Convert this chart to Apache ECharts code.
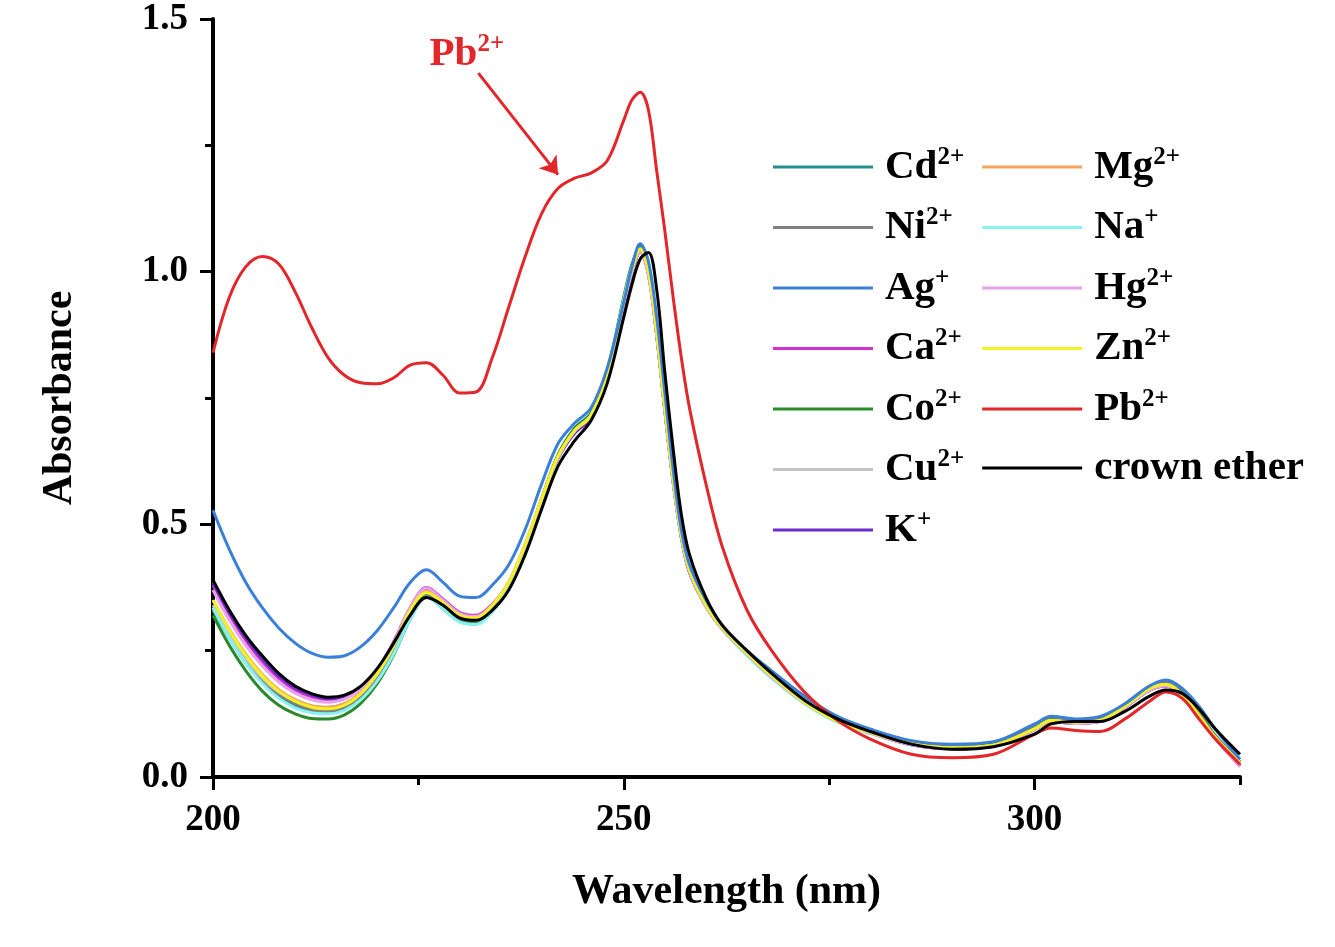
<!DOCTYPE html>
<html>
<head>
<meta charset="utf-8">
<script src="https://cdn.jsdelivr.net/npm/echarts@6/dist/echarts.min.js"></script>
<style>
html, body { margin: 0; padding: 0; background: #fff; }
#main { width: 1335px; height: 947px; }
</style>
</head>
<body>
<div id="main"></div>
<script>
var wavelength = [200,202,204,206,208,210,212,214,216,218,220,222,224,226,228,230,232,234,236,238,240,242,244,246,248,
  250,251,252,253,254,255,256,257,258,
  260,262,265,268,272,276,280,285,290,295,300,302,305,308,311,314,316,318,320,322,325];

var cd = [0.33,0.275,0.225,0.188,0.16,0.142,0.13,0.127,0.134,0.155,0.19,0.245,0.315,0.36,0.335,0.31,0.305,0.33,0.38,0.455,0.55,0.635,0.69,0.72,0.80,
  0.945,1.01,1.05,1.0,0.88,0.73,0.59,0.48,0.41,
  0.34,0.295,0.245,0.2,0.15,0.112,0.09,0.068,0.06,0.066,0.1,0.118,0.112,0.116,0.145,0.18,0.19,0.168,0.128,0.082,0.03];
var ni = [0.335,0.28,0.23,0.19,0.163,0.145,0.133,0.13,0.137,0.158,0.195,0.25,0.32,0.362,0.338,0.312,0.307,0.332,0.38,0.455,0.548,0.632,0.685,0.715,0.795,
  0.94,1.005,1.045,1.0,0.885,0.735,0.595,0.485,0.415,
  0.342,0.297,0.247,0.202,0.15,0.112,0.09,0.067,0.059,0.064,0.098,0.115,0.11,0.114,0.142,0.178,0.187,0.165,0.125,0.08,0.03];
var ag = [0.528,0.45,0.385,0.335,0.295,0.265,0.245,0.237,0.24,0.258,0.29,0.335,0.385,0.41,0.385,0.358,0.355,0.38,0.42,0.49,0.58,0.66,0.70,0.73,0.81,
  0.94,1.01,1.055,1.02,0.91,0.76,0.61,0.49,0.42,
  0.35,0.30,0.25,0.21,0.16,0.12,0.095,0.072,0.065,0.07,0.105,0.12,0.115,0.12,0.145,0.18,0.192,0.175,0.14,0.095,0.035];
var ca = [0.38,0.32,0.27,0.228,0.195,0.172,0.158,0.152,0.157,0.176,0.212,0.268,0.335,0.375,0.352,0.326,0.32,0.342,0.385,0.46,0.55,0.635,0.685,0.715,0.795,
  0.935,1.0,1.04,0.995,0.875,0.725,0.585,0.475,0.405,
  0.338,0.293,0.243,0.198,0.147,0.11,0.087,0.064,0.056,0.061,0.094,0.11,0.106,0.11,0.138,0.172,0.18,0.16,0.12,0.076,0.022];
var co = [0.32,0.26,0.21,0.17,0.142,0.125,0.116,0.115,0.123,0.146,0.185,0.242,0.312,0.357,0.333,0.308,0.303,0.328,0.378,0.455,0.55,0.638,0.69,0.72,0.805,
  0.95,1.015,1.05,1.0,0.875,0.725,0.585,0.475,0.405,
  0.338,0.293,0.243,0.198,0.147,0.11,0.088,0.066,0.058,0.063,0.096,0.113,0.108,0.112,0.14,0.175,0.183,0.162,0.122,0.078,0.028];
var cu = [0.34,0.285,0.235,0.196,0.168,0.15,0.14,0.138,0.145,0.166,0.203,0.258,0.326,0.366,0.342,0.316,0.311,0.336,0.384,0.458,0.55,0.634,0.686,0.716,0.798,
  0.94,1.005,1.045,1.0,0.88,0.73,0.59,0.48,0.41,
  0.34,0.295,0.245,0.2,0.148,0.11,0.088,0.066,0.058,0.063,0.095,0.112,0.108,0.112,0.14,0.175,0.183,0.162,0.122,0.078,0.028];
var k = [0.385,0.325,0.275,0.234,0.2,0.176,0.162,0.155,0.16,0.178,0.213,0.266,0.33,0.37,0.348,0.322,0.317,0.338,0.38,0.455,0.545,0.63,0.68,0.71,0.79,
  0.93,0.995,1.04,0.995,0.875,0.725,0.585,0.475,0.405,
  0.338,0.293,0.243,0.198,0.147,0.11,0.087,0.064,0.056,0.061,0.094,0.11,0.106,0.11,0.138,0.172,0.18,0.16,0.12,0.076,0.022];
var mg = [0.35,0.292,0.243,0.203,0.173,0.153,0.141,0.138,0.145,0.167,0.206,0.262,0.332,0.368,0.346,0.32,0.315,0.34,0.386,0.46,0.55,0.635,0.685,0.715,0.798,
  0.94,1.0,1.04,0.995,0.878,0.728,0.588,0.478,0.408,
  0.34,0.295,0.245,0.2,0.148,0.11,0.088,0.066,0.058,0.063,0.095,0.112,0.108,0.112,0.14,0.175,0.183,0.162,0.122,0.078,0.028];
var na = [0.335,0.275,0.225,0.185,0.156,0.137,0.127,0.125,0.132,0.153,0.19,0.244,0.312,0.356,0.333,0.307,0.302,0.327,0.377,0.452,0.545,0.632,0.685,0.716,0.8,
  0.945,1.01,1.045,0.998,0.878,0.728,0.588,0.478,0.408,
  0.338,0.292,0.24,0.195,0.145,0.108,0.086,0.065,0.057,0.062,0.095,0.112,0.107,0.111,0.139,0.174,0.182,0.16,0.12,0.076,0.026];
var hg = [0.37,0.31,0.26,0.22,0.188,0.166,0.153,0.148,0.154,0.174,0.21,0.266,0.334,0.374,0.35,0.324,0.318,0.34,0.384,0.458,0.548,0.632,0.684,0.714,0.795,
  0.935,1.0,1.04,0.995,0.875,0.725,0.585,0.475,0.405,
  0.338,0.293,0.243,0.198,0.147,0.11,0.087,0.064,0.056,0.061,0.094,0.11,0.106,0.11,0.138,0.172,0.18,0.16,0.12,0.076,0.02];
var zn = [0.35,0.29,0.24,0.20,0.17,0.15,0.138,0.135,0.142,0.165,0.205,0.26,0.33,0.365,0.345,0.32,0.315,0.34,0.385,0.46,0.55,0.635,0.685,0.715,0.80,
  0.94,1.005,1.045,1.0,0.88,0.73,0.59,0.48,0.41,
  0.34,0.295,0.245,0.2,0.148,0.11,0.088,0.066,0.058,0.063,0.095,0.112,0.108,0.112,0.14,0.175,0.183,0.162,0.122,0.078,0.028];
var pb = [0.84,0.95,1.01,1.03,1.015,0.96,0.89,0.83,0.795,0.78,0.778,0.79,0.815,0.82,0.795,0.76,0.762,0.83,0.93,1.03,1.115,1.165,1.185,1.195,1.22,
  1.30,1.34,1.355,1.32,1.20,1.08,0.95,0.83,0.73,
  0.58,0.455,0.33,0.25,0.168,0.112,0.075,0.045,0.038,0.045,0.085,0.097,0.092,0.09,0.115,0.15,0.168,0.155,0.115,0.075,0.025];
var crownEther = [0.39,0.33,0.28,0.24,0.205,0.18,0.165,0.158,0.162,0.18,0.215,0.265,0.32,0.355,0.34,0.315,0.31,0.33,0.37,0.44,0.53,0.615,0.665,0.705,0.78,
  0.91,0.975,1.025,1.038,0.965,0.80,0.65,0.52,0.44,
  0.355,0.30,0.25,0.205,0.152,0.115,0.09,0.065,0.055,0.06,0.085,0.105,0.11,0.11,0.13,0.16,0.172,0.165,0.135,0.095,0.045];

var names = ['Cd2+','Ni2+','Ag+','Ca2+','Co2+','Cu2+','K+','Mg2+','Na+','Hg2+','Zn2+','Pb2+','crown ether'];
var values = [cd, ni, ag, ca, co, cu, k, mg, na, hg, zn, pb, crownEther];
var colors = ['#2a8c8c','#808080','#3a80d8','#d030d0','#2a8a2a','#c4c4c4','#6a2ccc','#f2a45e','#86f2f2','#e8a2e8','#f2f222','#e2262a','#000000'];
var xTicks = [200, 250, 300];
var xMinorTicks = [225, 275, 325];

var serif = "'Liberation Serif', 'Times New Roman', serif";

function pairs(ys) {
  return wavelength.map(function (x, i) { return [x, ys[i]]; });
}

function richName(name) {
  var m = name.match(/^([A-Za-z]+)(\d?[+-])$/);
  if (m) return '{b|' + m[1] + '}{s|' + m[2] + '}';
  return '{b|' + name + '}';
}

// draw order: plain ions first, then Ag, Pb, crown ether on top
var drawOrder = [0, 1, 3, 4, 5, 6, 7, 8, 9, 10, 2, 11, 12];
var series = drawOrder.map(function (i) {
  var s = {
    name: names[i],
    type: 'line',
    data: pairs(values[i]),
    smooth: 0.35,
    symbol: 'none',
    lineStyle: { width: 3, color: colors[i] },
    itemStyle: { color: colors[i] },
    z: 2
  };
  if (names[i] === 'Pb2+') {
    s.markLine = {
      silent: true,
      symbol: ['none', 'arrow'],
      symbolSize: 17,
      label: { show: false },
      lineStyle: { color: '#e2262a', width: 3, type: 'solid' },
      data: [[{ coord: [232.3, 1.393] }, { coord: [242.0, 1.192] }]]
    };
    s.markPoint = {
      silent: true,
      symbol: 'rect',
      symbolSize: 1,
      itemStyle: { color: 'rgba(0,0,0,0)' },
      label: {
        show: true,
        position: 'inside',
        formatter: '{b|Pb}{s|2+}',
        rich: {
          b: { fontFamily: serif, fontWeight: 'bold', fontSize: 41, color: '#e2262a', lineHeight: 44 },
          s: { fontFamily: serif, fontWeight: 'bold', fontSize: 25, color: '#e2262a', verticalAlign: 'top', lineHeight: 24 }
        }
      },
      data: [{ coord: [230.9, 1.43] }]
    };
  }
  return s;
});

var myChart = echarts.init(document.getElementById('main'));
myChart.setOption({
  animation: false,
  backgroundColor: '#fff',
  grid: { left: 213, right: 95, top: 19, bottom: 170 },
  legend: {
    data: names,
    orient: 'vertical',
    left: 768,
    top: 140,
    height: 440,
    itemWidth: 100,
    itemHeight: 3,
    itemGap: 18,
    icon: 'rect',
    formatter: richName,
    textStyle: {
      padding: [0, 0, 0, 7],
      rich: {
        b: { fontFamily: serif, fontWeight: 'bold', fontSize: 41, color: '#000', lineHeight: 44 },
        s: { fontFamily: serif, fontWeight: 'bold', fontSize: 25, color: '#000', verticalAlign: 'top', lineHeight: 24 }
      }
    }
  },
  xAxis: [{
    type: 'value',
    min: 200,
    max: 325,
    interval: 25,
    name: 'Wavelength (nm)',
    nameLocation: 'middle',
    nameGap: 94,
    nameTextStyle: { fontFamily: serif, fontWeight: 'bold', fontSize: 42, color: '#000' },
    axisLine: { lineStyle: { color: '#000', width: 4 } },
    axisTick: { customValues: xTicks, length: 13, lineStyle: { width: 3, color: '#000' } },
    axisLabel: { customValues: xTicks, margin: 25, fontFamily: serif, fontWeight: 'bold', fontSize: 37, color: '#000' },
    splitLine: { show: false }
  }, {
    type: 'value',
    min: 200,
    max: 325,
    position: 'bottom',
    axisLine: { show: false },
    axisTick: { customValues: xMinorTicks, length: 8, lineStyle: { width: 3, color: '#000' } },
    axisLabel: { show: false },
    splitLine: { show: false }
  }],
  yAxis: {
    type: 'value',
    min: 0,
    max: 1.5,
    interval: 0.5,
    name: 'Absorbance',
    nameLocation: 'middle',
    nameGap: 132,
    nameTextStyle: { fontFamily: serif, fontWeight: 'bold', fontSize: 42, color: '#000' },
    axisLine: { show: true, lineStyle: { color: '#000', width: 4 } },
    axisTick: { show: true, length: 13, lineStyle: { width: 3, color: '#000' } },
    minorTick: { show: true, splitNumber: 2, length: 8, lineStyle: { width: 3, color: '#000' } },
    axisLabel: {
      margin: 25,
      fontFamily: serif, fontWeight: 'bold', fontSize: 37, color: '#000',
      formatter: function (v) { return v.toFixed(1); }
    },
    splitLine: { show: false }
  },
  series: series
});
</script>
</body>
</html>
